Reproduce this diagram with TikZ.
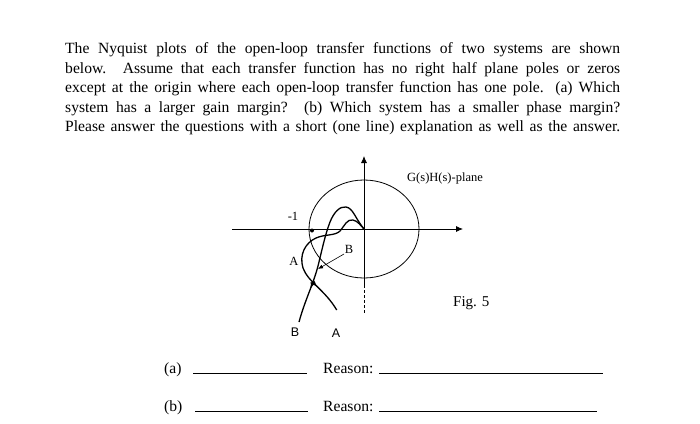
\documentclass[tikz,border=0pt]{standalone}
\usepackage{fontspec}
\setmainfont{Liberation Serif}
\newfontfamily\handf{Liberation Sans}
\usetikzlibrary{arrows.meta,decorations.markings}
\tikzset{
  txt/.style={anchor=base west,inner sep=0pt,font=\fontsize{15.6}{18}\selectfont},
  lbl/.style={inner sep=0pt,font=\fontsize{12.5}{14}\selectfont},
  ax/.style={line width=0.8pt,-{Latex[length=7pt,width=6pt]}},
  crv/.style={line width=1.3pt},
  uline/.style={line width=0.6pt},
  midarrow/.style={postaction={decorate},decoration={markings,mark=at position #1 with {\arrowreversed{Latex[length=7pt,width=4.5pt]}}}}
}
\begin{document}
\begin{tikzpicture}[x=1pt,y=-1pt]
\useasboundingbox (0,0) rectangle (700,423);
\fill[white] (0,0) rectangle (700,423);
\foreach \t [count=\i] in {
 {The Nyquist plots of the open-loop transfer functions of two systems are shown},
 {below. Assume that each transfer function has no right half plane poles or zeros},
 {except at the origin where each open-loop transfer function has one pole. (a) Which},
 {system has a larger gain margin? (b) Which system has a smaller phase margin?},
 {Please answer the questions with a short (one line) explanation as well as the answer.}}
 \node[txt] (l\i) at (65,{34.5+19.4*\i}) {\makebox[555pt][s]{\t}};
% axes
\coordinate (O) at (364,229);
\coordinate (xl) at (232,229);
\coordinate (xr) at (463,229);
\coordinate (yt) at (364,156);
\coordinate (yb) at (364,314);
\draw[ax] (xl) -- (xr);
\draw[ax] (O) -- (yt);
\draw[line width=0.8pt] (O) -- (364,285);
\draw[line width=0.8pt,densely dashed] (364,285) -- (yb);
\draw[line width=0.8pt] (O) ellipse [x radius=55,y radius=49];
\fill (312,230.5) circle (2pt);
\node[lbl] (m1) at (293,216) {-1};
\node[lbl,anchor=west] (gh) at (407,178) {G(s)H(s)-plane};
\node[lbl,font=\fontsize{15}{17}\selectfont,anchor=west] (fig) at (453,303) {Fig. 5};
% curves
\draw[crv,midarrow=0.2] (336.7,310) .. controls (325,290) and (308,282) .. (303,268)
  .. controls (299,255) and (305,243) .. (316,238)
  .. controls (325,234) and (335,236) .. (340,231)
  .. controls (345,225) and (347,219) .. (353,220)
  .. controls (358,221) and (361,226) .. (O);
\draw[crv,midarrow=0.22] (299,322) .. controls (305,300) and (313,285) .. (318,266)
  .. controls (322,250) and (325,235) .. (330,222)
  .. controls (334,212) and (340,206) .. (346,207)
  .. controls (353,208) and (355,218) .. (O);
\node[lbl] (Bl) at (349,249) {B};
\draw[line width=0.6pt,-{Latex[length=5pt,width=4pt]}] (344,254) -- (318,269);
\node[lbl] (Al) at (294,261) {A};
\node[lbl,font=\handf\fontsize{12.5}{14}\selectfont] (Bb) at (295,332) {B};
\node[lbl,font=\handf\fontsize{12.5}{14}\selectfont] (Ab) at (336,333) {A};
% answer lines
\node[txt] (a) at (164,373) {(a)};
\node[txt] (ra) at (323,373) {Reason:};
\node[txt] (b) at (164,411) {(b)};
\node[txt] (rb) at (323,411) {Reason:};
\draw[uline] (193,373) -- (307,373);
\draw[uline] (379,373) -- (603,373);
\draw[uline] (195,411) -- (308,411);
\draw[uline] (379,411) -- (597,411);
\end{tikzpicture}
\end{document}
